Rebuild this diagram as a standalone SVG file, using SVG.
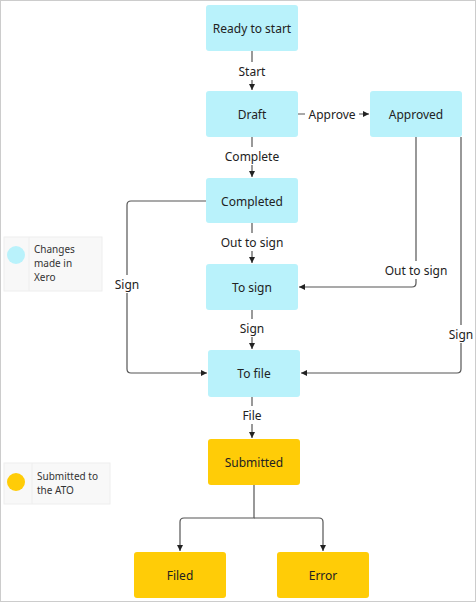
<svg xmlns="http://www.w3.org/2000/svg" width="476" height="602" viewBox="0 0 476 602">
<style>
.n{fill:#B9F2FB}
.y{fill:#FFCC07}
.t{font-family:"Noto Sans","Open Sans",sans-serif;font-size:12px;fill:#222;text-anchor:middle;dominant-baseline:central}
.l{font-family:"Noto Sans","Open Sans",sans-serif;font-size:12px;fill:#222;text-anchor:middle;dominant-baseline:central}
.lg{font-family:"Noto Sans","Open Sans",sans-serif;font-size:10px;fill:#333}
.c{fill:none;stroke:#555;stroke-width:1.2}
.bg{fill:#fff}
</style>
<defs>
<marker id="a" viewBox="0 0 6 6" refX="6" refY="3" markerWidth="6" markerHeight="6" markerUnits="userSpaceOnUse" orient="auto">
<path d="M0,0 L6,3 L0,6 z" fill="#222"/>
</marker>
</defs>
<rect x="0.5" y="0.5" width="475" height="601" fill="#fff" stroke="#ccc"/>
<g id="connectors">
<path class="c" d="M252,51 V90" marker-end="url(#a)"/>
<path class="c" d="M298,114 H369" marker-end="url(#a)"/>
<path class="c" d="M252,137 V177" marker-end="url(#a)"/>
<path class="c" d="M252,223 V263" marker-end="url(#a)"/>
<path class="c" d="M206,201 H131 Q127,201 127,205 V369 Q127,373 131,373 H207" marker-end="url(#a)"/>
<path class="c" d="M416,137 V283 Q416,287 412,287 H299" marker-end="url(#a)"/>
<path class="c" d="M461,137 V369 Q461,373 457,373 H301" marker-end="url(#a)"/>
<path class="c" d="M252,310 V349" marker-end="url(#a)"/>
<path class="c" d="M252,397 V438" marker-end="url(#a)"/>
<path class="c" d="M254,485 V518 Q254,518 250,518 H184 Q180,518 180,522 V551" marker-end="url(#a)"/>
<path class="c" d="M254,518 H319 Q323,518 323,522 V551" marker-end="url(#a)"/>
<rect class="bg" x="233" y="62" width="38" height="18"/>
<text class="l" x="252" y="71">Start</text>
<rect class="bg" x="305" y="105" width="54" height="18"/>
<text class="l" x="332" y="114">Approve</text>
<rect class="bg" x="222" y="147" width="60" height="18"/>
<text class="l" x="252" y="156">Complete</text>
<rect class="bg" x="218" y="233" width="68" height="18"/>
<text class="l" x="252" y="242">Out to sign</text>
<rect class="bg" x="113" y="275" width="28" height="18"/>
<text class="l" x="127" y="284">Sign</text>
<rect class="bg" x="382" y="261" width="68" height="18"/>
<text class="l" x="416" y="270">Out to sign</text>
<rect class="bg" x="447" y="325" width="28" height="18"/>
<text class="l" x="461" y="334">Sign</text>
<rect class="bg" x="238" y="319" width="28" height="18"/>
<text class="l" x="252" y="328">Sign</text>
<rect class="bg" x="240" y="406" width="24" height="18"/>
<text class="l" x="252" y="415">File</text>
</g>
<g id="ready"><rect class="n" x="206" y="5" width="92" height="46" rx="3"/><text class="t" x="252" y="28">Ready to start</text></g>
<g id="draft"><rect class="n" x="206" y="91" width="92" height="46" rx="3"/><text class="t" x="252" y="114">Draft</text></g>
<g id="approved"><rect class="n" x="370" y="91" width="92" height="46" rx="3"/><text class="t" x="416" y="114">Approved</text></g>
<g id="completed"><rect class="n" x="206" y="178" width="92" height="45" rx="3"/><text class="t" x="252" y="201">Completed</text></g>
<g id="tosign"><rect class="n" x="206" y="264" width="92" height="46" rx="3"/><text class="t" x="252" y="287">To sign</text></g>
<g id="tofile"><rect class="n" x="208" y="350" width="92" height="47" rx="3"/><text class="t" x="254" y="373">To file</text></g>
<g id="submitted"><rect class="y" x="208" y="439" width="92" height="46" rx="3"/><text class="t" x="254" y="462">Submitted</text></g>
<g id="filed"><rect class="y" x="134" y="552" width="92" height="46" rx="3"/><text class="t" x="180" y="575">Filed</text></g>
<g id="error"><rect class="y" x="277" y="552" width="92" height="46" rx="3"/><text class="t" x="323" y="575">Error</text></g>
<g id="legend-xero">
<rect x="4" y="237" width="98" height="54" fill="#f8f8f8" stroke="#eee"/>
<line x1="29" y1="237" x2="29" y2="291" stroke="#eee"/>
<circle cx="16" cy="255" r="9" fill="#B9F2FB"/>
<text class="lg" x="34" y="253">Changes</text>
<text class="lg" x="34" y="267">made in</text>
<text class="lg" x="34" y="281">Xero</text>
</g>
<g id="legend-ato">
<rect x="4" y="463" width="106" height="41" fill="#f8f8f8" stroke="#eee"/>
<line x1="32" y1="463" x2="32" y2="504" stroke="#eee"/>
<circle cx="16" cy="482" r="9" fill="#FFCC07"/>
<text class="lg" x="37" y="480">Submitted to</text>
<text class="lg" x="37" y="494">the ATO</text>
</g>
</svg>
